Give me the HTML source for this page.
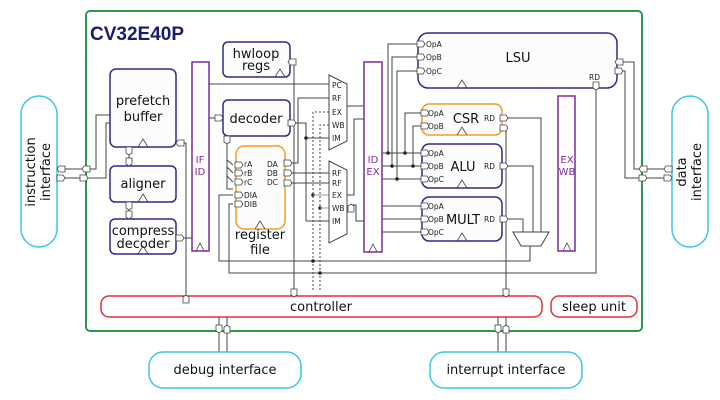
<!DOCTYPE html>
<html><head><meta charset="utf-8"><style>
html,body{margin:0;padding:0;background:#fff;}
svg{display:block;font-family:"DejaVu Sans","Liberation Sans",sans-serif;}
.w{stroke:#444;stroke-width:1;fill:none}
.d{stroke:#444;stroke-width:1;fill:none;stroke-dasharray:2,2}
.nb{fill:#fcfcfd;stroke:#2b2b8a;stroke-width:1.5}
.ob{fill:#fcfcfd;stroke:#f39a2a;stroke-width:1.5}
.pr{fill:#fff;stroke:#7b2a9a;stroke-width:1.5}
.cy{fill:#fff;stroke:#3cc6e4;stroke-width:1.5}
.rd{fill:#fff;stroke:#e0303a;stroke-width:1.5}
.p{fill:#fff;stroke:#444;stroke-width:.8}
.t{font-size:13px;fill:#111}
.s{font-size:7.5px;fill:#222}
.pt{font-size:10px;fill:#7b2a9a}
.clk{fill:none;stroke:#444;stroke-width:.8}
</style></head><body>
<svg width="720" height="400" viewBox="0 0 720 400" xmlns="http://www.w3.org/2000/svg">
<defs>
<g id="pr"><polygon class="p" points="0,-3 6,-3 8,0 6,3 0,3"/></g>
<g id="pd"><polygon class="p" points="-3,0 -3,6 0,8 3,6 3,0"/></g>
<g id="pu"><polygon class="p" points="-3,8 -3,2 0,0 3,2 3,8"/></g>
<g id="pl"><polygon class="p" points="8,-3 2,-3 0,0 2,3 8,3"/></g>
</defs>
<rect x="86" y="11" width="556" height="320" rx="4" fill="none" stroke="#2a9a4a" stroke-width="2"/>
<text x="90" y="40" font-size="19" font-weight="bold" fill="#1a1a6e" font-family="Liberation Sans, sans-serif">CV32E40P</text>

<g class="w">
<polyline points="57,169 96,169 96,115 110,115"/>
<polyline points="57,178 106,178 106,123 110,123"/>
<line x1="129" y1="147" x2="129" y2="166"/>
<line x1="129" y1="202" x2="129" y2="219"/>
<polyline points="176,143 186,143 186,296"/>
<line x1="176" y1="238" x2="192" y2="238"/>
<line x1="209" y1="84" x2="329" y2="84"/>
<line x1="209" y1="118" x2="223" y2="118"/>
<polyline points="290,62 294,62 294,296"/>
<polyline points="290,123 306,123 306,221 329,221"/>
<line x1="306" y1="138" x2="329" y2="138"/>
<polyline points="227,136 227,189 233,189"/>
<polyline points="227,160 233,165"/><polyline points="227,167 233,173"/><polyline points="227,176 233,182"/>
<polyline points="285,163 298,163 298,98 329,98"/>
<line x1="285" y1="173" x2="329" y2="173"/>
<line x1="285" y1="183" x2="329" y2="183"/>
<polyline points="233,195 219,195 219,261 530,261 530,246"/>
<polyline points="233,204 229,204 229,273 596,273 596,88"/>
<line x1="347" y1="106" x2="364" y2="106"/>
<polyline points="347,195 354,195 354,119 364,119"/>
<polyline points="352,205 356,205 356,221 364,221"/>
<polyline points="418,44 388,44 388,153 422,153"/>
<polyline points="418,57 392,57 392,166 422,166"/>
<polyline points="418,71 397,71 397,179 422,179"/>
<line x1="382" y1="153" x2="388" y2="153"/>
<line x1="382" y1="166" x2="392" y2="166"/>
<line x1="382" y1="179" x2="397" y2="179"/>
<polyline points="422,113 405,113 405,153"/>
<polyline points="422,126 413,126 413,166"/>
<line x1="382" y1="206" x2="422" y2="206"/>
<line x1="382" y1="219" x2="422" y2="219"/>
<line x1="382" y1="232" x2="422" y2="232"/>
<polyline points="502,118 541,118 541,232"/>
<polyline points="502,166 533,166 533,232"/>
<polyline points="502,219 523,219 523,232"/>
<polyline points="502,128 506,128 506,296"/>
<polyline points="617,62 634,62 634,169 672,169"/>
<polyline points="617,71 625,71 625,178 672,178"/>
<line x1="219" y1="317" x2="219" y2="352"/><line x1="227" y1="317" x2="227" y2="352"/>
<line x1="498" y1="317" x2="498" y2="352"/><line x1="506" y1="317" x2="506" y2="352"/>
</g>
<g class="d">
<polyline points="329,112 313,112 313,290"/>
<polyline points="329,125 320,125 320,290"/>
</g>
<g fill="#222">
<circle cx="306" cy="138" r="1.8"/><circle cx="313" cy="195" r="1.8"/><circle cx="320" cy="208" r="1.8"/>
<circle cx="313" cy="261" r="1.8"/><circle cx="320" cy="273" r="1.8"/>
<circle cx="388" cy="153" r="1.8"/><circle cx="405" cy="153" r="1.8"/>
<circle cx="392" cy="166" r="1.8"/><circle cx="413" cy="166" r="1.8"/><circle cx="397" cy="179" r="1.8"/>
</g>
<line x1="313" y1="195" x2="329" y2="195" stroke="#999"/>
<line x1="320" y1="208" x2="329" y2="208" stroke="#999"/>

<rect class="cy" x="21" y="96" width="36" height="151" rx="18"/>
<text class="t" transform="translate(35,172) rotate(-90)" text-anchor="middle">instruction</text>
<text class="t" transform="translate(50,172) rotate(-90)" text-anchor="middle">interface</text>
<rect class="cy" x="672" y="96" width="36" height="151" rx="18"/>
<text class="t" transform="translate(686,172) rotate(-90)" text-anchor="middle">data</text>
<text class="t" transform="translate(701,172) rotate(-90)" text-anchor="middle">interface</text>
<rect class="cy" x="149" y="352" width="152" height="36" rx="14"/>
<text class="t" x="225" y="374" text-anchor="middle">debug interface</text>
<rect class="cy" x="430" y="352" width="152" height="36" rx="14"/>
<text class="t" x="506" y="374" text-anchor="middle">interrupt interface</text>

<rect class="nb" x="110" y="69" width="66" height="78" rx="6"/>
<text class="t" x="143" y="105" text-anchor="middle">prefetch</text>
<text class="t" x="143" y="121" text-anchor="middle">buffer</text>
<rect class="nb" x="110" y="166" width="66" height="36" rx="5"/>
<text class="t" x="143" y="188" text-anchor="middle">aligner</text>
<rect class="nb" x="110" y="219" width="66" height="35" rx="5"/>
<text class="t" x="143" y="235" text-anchor="middle">compress</text>
<text class="t" x="143" y="248" text-anchor="middle">decoder</text>
<rect class="nb" x="223" y="42" width="67" height="35" rx="5"/>
<text class="t" x="256" y="58" text-anchor="middle">hwloop</text>
<text class="t" x="256" y="70" text-anchor="middle">regs</text>
<rect class="nb" x="223" y="100" width="67" height="36" rx="5"/>
<text class="t" x="256" y="123" text-anchor="middle">decoder</text>
<rect class="ob" x="236" y="146" width="49" height="83" rx="8"/>
<text class="t" x="260" y="239" text-anchor="middle">register</text>
<text class="t" x="260" y="254" text-anchor="middle">file</text>
<g class="s"><text x="244" y="167">rA</text><text x="244" y="176">rB</text><text x="244" y="185">rC</text>
<text x="244" y="198">DIA</text><text x="244" y="207">DIB</text>
<text x="267" y="167">DA</text><text x="267" y="176">DB</text><text x="267" y="185">DC</text></g>

<rect class="pr" x="192" y="62" width="17" height="189"/>
<text class="pt" x="200" y="163" text-anchor="middle">IF</text><text class="pt" x="200" y="175" text-anchor="middle">ID</text>
<rect class="pr" x="364" y="62" width="18" height="190"/>
<text class="pt" x="373" y="163" text-anchor="middle">ID</text><text class="pt" x="373" y="175" text-anchor="middle">EX</text>
<rect class="pr" x="558" y="96" width="17" height="155"/>
<text class="pt" x="567" y="163" text-anchor="middle">EX</text><text class="pt" x="567" y="175" text-anchor="middle">WB</text>

<polygon points="329,75 347,84 347,141 329,150" fill="#fff" stroke="#444"/>
<polygon points="329,161 347,170 347,234 329,243" fill="#fff" stroke="#444"/>
<g class="s"><text x="332" y="88">PC</text><text x="332" y="101">RF</text><text x="332" y="115">EX</text><text x="332" y="128">WB</text><text x="332" y="141">IM</text>
<text x="332" y="176">RF</text><text x="332" y="186">RF</text><text x="332" y="198">EX</text><text x="332" y="211">WB</text><text x="332" y="224">IM</text></g>

<rect class="nb" x="418" y="33" width="199" height="55" rx="10"/>
<text class="t" x="518" y="62" text-anchor="middle">LSU</text>
<rect class="ob" x="422" y="104" width="80" height="31" rx="7"/>
<text class="t" x="466" y="123" text-anchor="middle">CSR</text>
<rect class="nb" x="422" y="144" width="80" height="44" rx="7"/>
<text class="t" x="463" y="171" text-anchor="middle">ALU</text>
<rect class="nb" x="422" y="197" width="80" height="44" rx="7"/>
<text class="t" x="463" y="224" text-anchor="middle">MULT</text>
<g class="s">
<text x="426" y="47">OpA</text><text x="426" y="60">OpB</text><text x="426" y="74">OpC</text>
<text x="589" y="80">RD</text>
<text x="428" y="116">OpA</text><text x="428" y="129">OpB</text><text x="484" y="121">RD</text>
<text x="428" y="156">OpA</text><text x="428" y="169">OpB</text><text x="428" y="182">OpC</text><text x="484" y="169">RD</text>
<text x="428" y="209">OpA</text><text x="428" y="222">OpB</text><text x="428" y="235">OpC</text><text x="484" y="222">RD</text>
</g>
<polygon points="513,232 549,232 541,246 521,246" fill="#fff" stroke="#444"/>

<rect class="rd" x="101" y="296" width="441" height="21" rx="8"/>
<text class="t" x="321" y="311" text-anchor="middle">controller</text>
<rect class="rd" x="551" y="296" width="86" height="21" rx="8"/>
<text class="t" x="594" y="311" text-anchor="middle">sleep unit</text>

<g class="clk">
<polyline points="138,147 143,139 148,147"/><polyline points="138,202 143,194 148,202"/><polyline points="138,254 143,246 148,254"/>
<polyline points="275,77 280,69 285,77"/><polyline points="255,229 260,221 265,229"/>
<polyline points="196,251 200,243 204,251"/><polyline points="369,252 373,244 377,252"/><polyline points="563,251 567,243 571,251"/>
<polyline points="457,88 462,80 467,88"/><polyline points="457,135 462,127 467,135"/><polyline points="457,188 462,180 467,188"/><polyline points="457,241 462,233 467,241"/>
</g>

<use href="#pl" x="57" y="169"/><use href="#pr" x="57" y="178"/>
<use href="#pl" x="82" y="169"/><use href="#pr" x="80" y="178"/>
<use href="#pd" x="129" y="147"/><use href="#pd" x="129" y="158"/>
<use href="#pd" x="129" y="202"/><use href="#pd" x="129" y="211"/>
<use href="#pl" x="176" y="143"/><use href="#pr" x="176" y="238"/>
<use href="#pr" x="215" y="118"/><use href="#pl" x="288" y="62"/>
<use href="#pr" x="288" y="123"/><use href="#pd" x="227" y="136"/>
<use href="#pr" x="235" y="165"/><use href="#pr" x="235" y="173"/><use href="#pr" x="235" y="182"/>
<use href="#pr" x="235" y="195"/><use href="#pr" x="235" y="204"/>
<use href="#pr" x="284" y="163"/><use href="#pr" x="284" y="173"/><use href="#pr" x="284" y="183"/>
<use href="#pu" x="351" y="204"/>
<use href="#pr" x="417" y="44"/><use href="#pr" x="417" y="57"/><use href="#pr" x="417" y="71"/>
<use href="#pl" x="615" y="62"/><use href="#pr" x="615" y="71"/><use href="#pd" x="596" y="82"/>
<use href="#pr" x="421" y="113"/><use href="#pr" x="421" y="126"/>
<use href="#pr" x="421" y="153"/><use href="#pr" x="421" y="166"/><use href="#pr" x="421" y="179"/>
<use href="#pr" x="421" y="206"/><use href="#pr" x="421" y="219"/><use href="#pr" x="421" y="232"/>
<use href="#pr" x="500" y="118"/><use href="#pr" x="500" y="128"/><use href="#pr" x="500" y="166"/><use href="#pr" x="500" y="219"/>
<use href="#pl" x="639" y="169"/><use href="#pr" x="639" y="178"/>
<use href="#pl" x="664" y="169"/><use href="#pr" x="664" y="178"/>
<use href="#pu" x="186" y="295"/><use href="#pd" x="294" y="289"/><use href="#pd" x="506" y="289"/>
<use href="#pd" x="219" y="325"/><use href="#pu" x="227" y="325"/>
<use href="#pd" x="498" y="325"/><use href="#pu" x="506" y="325"/>
</svg>
</body></html>
